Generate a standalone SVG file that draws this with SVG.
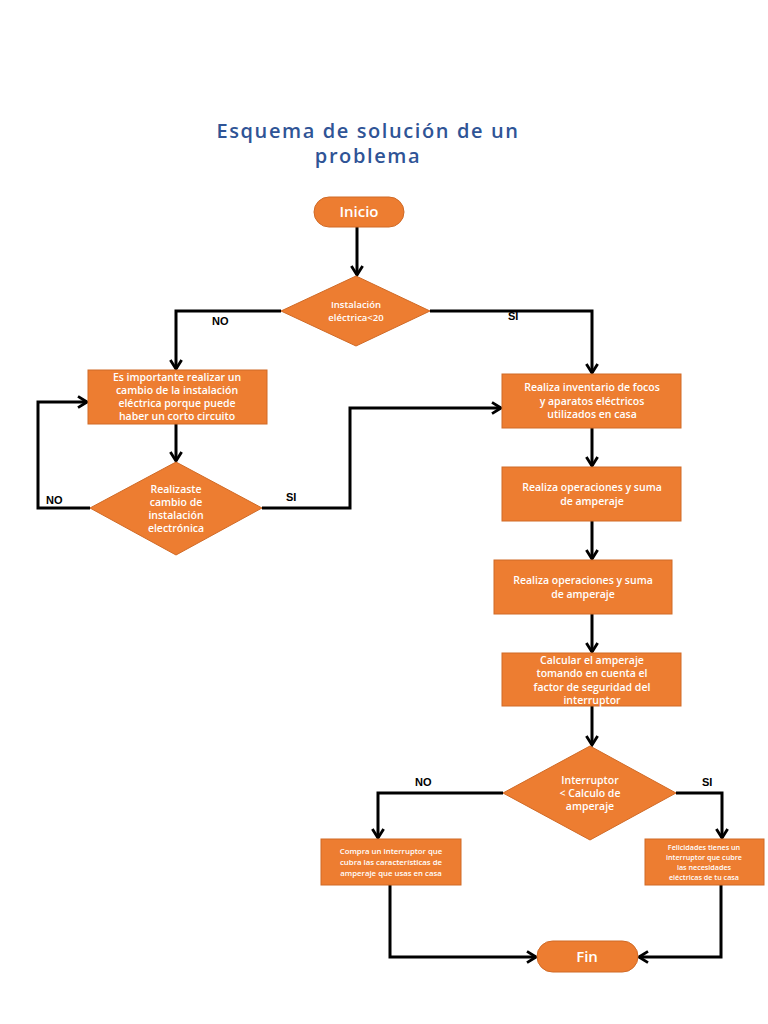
<svg xmlns="http://www.w3.org/2000/svg" width="768" height="1024" viewBox="0 0 768 1024">
<style>
.n{fill:#ed7d31;stroke:#d06a26;stroke-width:1}
.t{font-family:"Open Sans","Liberation Sans",sans-serif;fill:#fff;text-anchor:middle;font-weight:600}
.l{font-family:"Liberation Sans",sans-serif;font-size:11px;fill:#000;font-weight:bold}
.c{fill:none;stroke:#000;stroke-width:3}
</style>
<defs>
<marker id="a" viewBox="0 0 12 12" refX="10" refY="6" markerWidth="4.5" markerHeight="4.5" orient="auto" markerUnits="strokeWidth">
<polyline points="2,1 10,6 2,11" fill="none" stroke="#000" stroke-width="2.5"/>
</marker>
</defs>
<rect width="768" height="1024" fill="#fff"/>
<g id="title" font-family="Open Sans, Liberation Sans, sans-serif" font-size="20" fill="#2f5496" text-anchor="middle" font-weight="600" letter-spacing="1.6">
<text x="368" y="138">Esquema de solución de un</text>
<text x="368" y="163">problema</text>
</g>
<g id="connectors">
<path class="c" d="M357 227V275" marker-end="url(#a)"/>
<path class="c" d="M281 311H176V369" marker-end="url(#a)"/>
<path class="c" d="M430 311H592V373" marker-end="url(#a)"/>
<path class="c" d="M176 424V461" marker-end="url(#a)"/>
<path class="c" d="M90 508H38V402H87" marker-end="url(#a)"/>
<path class="c" d="M262 508H350V408H501" marker-end="url(#a)"/>
<path class="c" d="M592 428V466" marker-end="url(#a)"/>
<path class="c" d="M592 521V559" marker-end="url(#a)"/>
<path class="c" d="M592 614V652" marker-end="url(#a)"/>
<path class="c" d="M592 706V745" marker-end="url(#a)"/>
<path class="c" d="M503 793H378V838" marker-end="url(#a)"/>
<path class="c" d="M676 793H722V838" marker-end="url(#a)"/>
<path class="c" d="M390 885V957H536" marker-end="url(#a)"/>
<path class="c" d="M721 885V957H639" marker-end="url(#a)"/>
<text class="l" x="212" y="325">NO</text>
<text class="l" x="508" y="320">SI</text>
<text class="l" x="46" y="504">NO</text>
<text class="l" x="286" y="501">SI</text>
<text class="l" x="415" y="786">NO</text>
<text class="l" x="702" y="786">SI</text>
</g>
<g id="inicio"><rect class="n" x="314" y="197" width="90" height="30" rx="15"/><text class="t" x="359" y="217" font-size="15" font-weight="normal">Inicio</text></g>
<g id="d1"><polygon class="n" points="356,276 430,311 356,346 281,311"/><text class="t" x="356" y="308" font-size="9.5" font-weight="normal">Instalación</text><text class="t" x="356" y="321" font-size="9.5" font-weight="normal">eléctrica&lt;20</text></g>
<g id="boxA"><rect class="n" x="88" y="370" width="179" height="54"/><g class="t" font-size="10.5"><text x="177" y="381">Es importante  realizar un</text><text x="177" y="394">cambio de la instalación</text><text x="177" y="407">eléctrica porque puede</text><text x="177" y="420">haber un corto circuito</text></g></g>
<g id="d2"><polygon class="n" points="176,462 262,508 176,555 90,508"/><g class="t" font-size="10.5"><text x="176" y="493">Realizaste</text><text x="176" y="506">cambio de</text><text x="176" y="519">instalación</text><text x="176" y="532">electrónica</text></g></g>
<g id="boxB"><rect class="n" x="502" y="374" width="179" height="54"/><g class="t" font-size="10.5"><text x="592" y="391">Realiza inventario de focos</text><text x="592" y="405">y aparatos eléctricos</text><text x="592" y="418">utilizados  en casa</text></g></g>
<g id="boxC"><rect class="n" x="502" y="467" width="179" height="54"/><g class="t" font-size="10.5"><text x="592" y="491">Realiza operaciones y suma</text><text x="592" y="505">de amperaje</text></g></g>
<g id="boxD"><rect class="n" x="494" y="560" width="178" height="54"/><g class="t" font-size="10.5"><text x="583" y="584">Realiza operaciones y suma</text><text x="583" y="598">de amperaje</text></g></g>
<g id="boxE"><rect class="n" x="502" y="653" width="179" height="53"/><g class="t" font-size="10.5"><text x="592" y="664">Calcular el amperaje</text><text x="592" y="677">tomando en cuenta el</text><text x="592" y="691">factor de seguridad del</text><text x="592" y="704">interruptor</text></g></g>
<g id="d3"><polygon class="n" points="590,746 676,793 590,840 503,793"/><g class="t" font-size="10.5"><text x="590" y="784">Interruptor</text><text x="590" y="797">&lt; Calculo de</text><text x="590" y="810">amperaje</text></g></g>
<g id="boxF"><rect class="n" x="321" y="839" width="140" height="46"/><g class="t" font-size="7.8"><text x="391" y="854">Compra un interruptor que</text><text x="391" y="865">cubra las características de</text><text x="391" y="876">amperaje que usas en  casa</text></g></g>
<g id="boxG"><rect class="n" x="645" y="839" width="119" height="46"/><g class="t" font-size="7.2"><text x="704" y="850">Felicidades tienes un</text><text x="704" y="860">interruptor que cubre</text><text x="704" y="870">las necesidades</text><text x="704" y="880">eléctricas de tu casa</text></g></g>
<g id="fin"><rect class="n" x="537" y="941" width="101" height="31" rx="15.5"/><text class="t" x="587" y="962" font-size="15" font-weight="normal">Fin</text></g>
</svg>
